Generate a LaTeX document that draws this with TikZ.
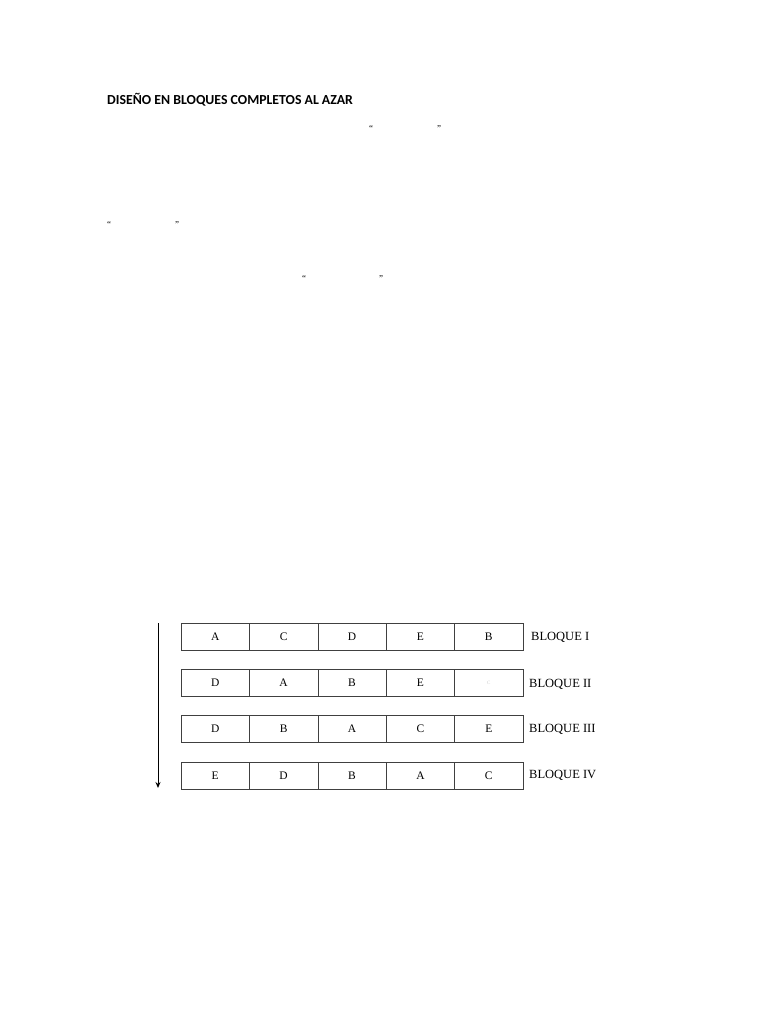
\documentclass[tikz,border=0pt]{standalone}
\usepackage{fontspec}
\setmainfont{Liberation Serif}
\newfontfamily\titlefont{Carlito}
\usetikzlibrary{positioning,arrows.meta}
\tikzset{celda/.style={draw=black!75, line width=0.6pt, minimum width=68.4pt, minimum height=27pt, inner sep=0pt, outer sep=0pt, font=\fontsize{11.5}{13}\selectfont},
         etiqueta/.style={anchor=west, inner sep=0pt, font=\fontsize{12.5}{14}\selectfont},
         comillas/.style={inner sep=0pt, font=\fontsize{9}{10}\selectfont}}

\begin{document}
\begin{tikzpicture}[x=1pt,y=-1pt]
\useasboundingbox (0,0) rectangle (768,1024);

% titulo
\node[anchor=west, inner sep=0pt, font=\titlefont\bfseries\fontsize{13.8}{16}\selectfont] (titulo) at (107,100) {DISEÑO EN BLOQUES COMPLETOS AL AZAR};

% comillas sueltas del texto
\node[comillas] (q1) at (371,129) {“};
\node[comillas] (q2) at (439,129) {”};
\node[comillas] (q3) at (109,225) {“};
\node[comillas] (q4) at (177,225) {”};
\node[comillas] (q5) at (304,279) {“};
\node[comillas] (q6) at (381,279) {”};

% bloque I
\node[celda] (a1) at (215.2,636.5) {A};
\node[celda, right=0pt of a1] (a2) {C};
\node[celda, right=0pt of a2] (a3) {D};
\node[celda, right=0pt of a3] (a4) {E};
\node[celda, right=0pt of a4] (a5) {B};
\node[etiqueta] (b1) at (531,637) {BLOQUE I};

% bloque II
\node[celda] (c1) at (215.2,682.5) {D};
\node[celda, right=0pt of c1] (c2) {A};
\node[celda, right=0pt of c2] (c3) {B};
\node[celda, right=0pt of c3] (c4) {E};
\node[celda, right=0pt of c4, text=black!20, font=\fontsize{5}{6}\selectfont] (c5) {C};
\node[etiqueta] (b2) at (529,684.5) {BLOQUE II};

% bloque III
\node[celda] (d1) at (215.2,728.5) {D};
\node[celda, right=0pt of d1] (d2) {B};
\node[celda, right=0pt of d2] (d3) {A};
\node[celda, right=0pt of d3] (d4) {C};
\node[celda, right=0pt of d4] (d5) {E};
\node[etiqueta] (b3) at (529,729.5) {BLOQUE III};

% bloque IV
\node[celda] (e1) at (215.2,775.5) {E};
\node[celda, right=0pt of e1] (e2) {D};
\node[celda, right=0pt of e2] (e3) {B};
\node[celda, right=0pt of e3] (e4) {A};
\node[celda, right=0pt of e4] (e5) {C};
\node[etiqueta] (b4) at (529,775) {BLOQUE IV};

% flecha
\coordinate (f0) at (158,623);
\coordinate (f1) at (158,788);
\draw[line width=1pt, -{Stealth[length=6pt,width=5pt]}] (f0) -- (f1);

\end{tikzpicture}
\end{document}
